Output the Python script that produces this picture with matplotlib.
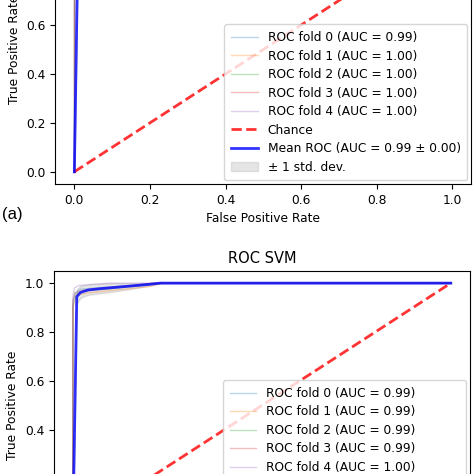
import matplotlib
matplotlib.use("Agg")
import matplotlib.pyplot as plt

plt.rcParams["font.size"] = 8.8

# panel (a): folds, top of the figure is cropped
top_auc = [0.99, 1.00, 1.00, 1.00, 1.00]
top_fold_fpr = [
    [0, 0, 0.01, 0.03, 1],
    [0, 0, 1],
    [0, 0, 1],
    [0, 0, 1],
    [0, 0, 1],
]
top_fold_tpr = [
    [0, 0.93, 0.98, 1, 1],
    [0, 1, 1],
    [0, 1, 1],
    [0, 1, 1],
    [0, 1, 1],
]
top_mean_fpr = [0, 0.0101, 0.0202, 1.0]
top_mean_tpr = [0, 0.986, 1.0, 1.0]
top_upper = [0, 1.0, 1.0, 1.0]
top_lower = [0, 0.972, 1.0, 1.0]
top_mean_label = "Mean ROC (AUC = 0.99 \u00b1 0.00)"

# panel (b): ROC SVM
svm_auc = [0.99, 0.99, 0.99, 0.99, 1.00]
svm_fold_fpr = [
    [0, 0, 0.005, 0.02, 0.06, 0.15, 0.22, 1],
    [0, 0, 0.01, 0.04, 0.1, 0.2, 0.24, 1],
    [0, 0, 0.008, 0.03, 0.08, 0.18, 0.23, 1],
    [0, 0, 0.006, 0.025, 0.07, 0.16, 0.21, 1],
    [0, 0, 0.004, 0.015, 0.05, 0.1, 1],
]
svm_fold_tpr = [
    [0, 0.92, 0.96, 0.975, 0.98, 0.99, 1, 1],
    [0, 0.90, 0.95, 0.96, 0.97, 0.985, 1, 1],
    [0, 0.91, 0.955, 0.968, 0.975, 0.99, 1, 1],
    [0, 0.93, 0.96, 0.97, 0.978, 0.99, 1, 1],
    [0, 0.95, 0.98, 0.99, 0.995, 1, 1],
]
svm_mean_fpr = [0, 0.0101, 0.0202, 0.0404, 0.0707, 0.101, 0.152, 0.202, 0.232, 1.0]
svm_mean_tpr = [0, 0.945, 0.962, 0.972, 0.977, 0.981, 0.988, 0.995, 1.0, 1.0]
svm_upper = [0, 0.975, 0.99, 0.995, 0.998, 1.0, 1.0, 1.0, 1.0, 1.0]
svm_lower = [0, 0.915, 0.94, 0.952, 0.958, 0.964, 0.976, 0.99, 1.0, 1.0]
svm_mean_label = "Mean ROC (AUC = 0.99 \u00b1 0.00)"


def draw_roc(ax, fold_fpr, fold_tpr, aucs, mean_fpr, mean_tpr, upper, lower, mean_label):
    for i in range(len(aucs)):
        ax.plot(fold_fpr[i], fold_tpr[i], lw=1, alpha=0.3,
                label="ROC fold %d (AUC = %0.2f)" % (i, aucs[i]))
    ax.plot([0, 1], [0, 1], linestyle="--", lw=2, color="r", label="Chance", alpha=0.8)
    ax.plot(mean_fpr, mean_tpr, color="b", label=mean_label, lw=2, alpha=0.8)
    ax.fill_between(mean_fpr, lower, upper, color="grey", alpha=0.2,
                    label="\u00b1 1 std. dev.")
    ax.set_xlim([-0.05, 1.05])
    ax.set_ylim([-0.05, 1.05])
    ax.set_xlabel("False Positive Rate")
    ax.set_ylabel("True Positive Rate")
    ax.legend(loc="lower right", borderaxespad=0.3, borderpad=0.55,
              handlelength=2.2, labelspacing=0.45)


fig = plt.figure(figsize=(4.74, 4.74), dpi=100)

ax1 = fig.add_axes([0.117, 0.6118, 0.877, 0.5675])
draw_roc(ax1, top_fold_fpr, top_fold_tpr, top_auc, top_mean_fpr, top_mean_tpr,
         top_upper, top_lower, top_mean_label)

ax2 = fig.add_axes([0.114, -0.139, 0.877, 0.5675])
draw_roc(ax2, svm_fold_fpr, svm_fold_tpr, svm_auc, svm_mean_fpr, svm_mean_tpr,
         svm_upper, svm_lower, svm_mean_label)
ax2.set_title("ROC SVM")

fig.text(0.004, (474 - 215) / 474, "(a)", fontsize=12, family="Liberation Sans", va="center")

fig.savefig("out.png", dpi=100)
